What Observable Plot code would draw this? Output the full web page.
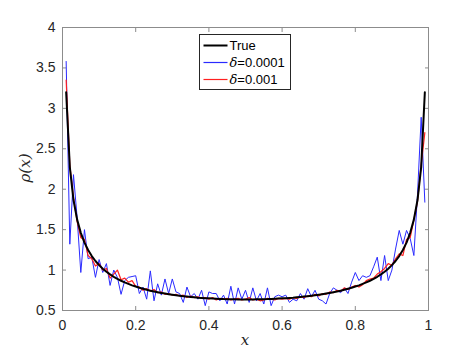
<!DOCTYPE html>
<html>
<head>
<meta charset="utf-8">
<script src="https://cdn.jsdelivr.net/npm/d3@7"></script>
<script src="https://cdn.jsdelivr.net/npm/@observablehq/plot@0.6"></script>
<style>
body{margin:0;background:#fff;}
#chart{position:relative;width:474px;height:355px;}
</style>
</head>
<body>
<div id="chart"></div>
<script>
const xs = [0.01,0.02,0.03,0.04,0.05,0.06,0.07,0.08,0.09,0.10,0.11,0.12,0.13,0.14,0.15,0.16,0.17,0.18,0.19,0.20,
0.21,0.22,0.23,0.24,0.25,0.26,0.27,0.28,0.29,0.30,0.31,0.32,0.33,0.34,0.35,0.36,0.37,0.38,0.39,0.40,
0.41,0.42,0.43,0.44,0.45,0.46,0.47,0.48,0.49,0.50,0.51,0.52,0.53,0.54,0.55,0.56,0.57,0.58,0.59,0.60,
0.61,0.62,0.63,0.64,0.65,0.66,0.67,0.68,0.69,0.70,0.71,0.72,0.73,0.74,0.75,0.76,0.77,0.78,0.79,0.80,
0.81,0.82,0.83,0.84,0.85,0.86,0.87,0.88,0.89,0.90,0.91,0.92,0.93,0.94,0.95,0.96,0.97,0.98,0.99];

const trueVals = [3.199,2.274,1.866,1.624,1.461,1.340,1.248,1.173,1.112,1.061,1.017,0.980,0.947,0.917,0.891,0.868,0.847,0.829,0.811,0.796,
0.781,0.768,0.756,0.745,0.735,0.726,0.717,0.709,0.702,0.695,0.688,0.682,0.677,0.672,0.667,0.663,0.659,0.656,0.653,0.650,
0.647,0.645,0.643,0.641,0.640,0.639,0.638,0.637,0.637,0.637,0.637,0.637,0.638,0.639,0.640,0.641,0.643,0.645,0.647,0.650,
0.653,0.656,0.659,0.663,0.667,0.672,0.677,0.682,0.688,0.695,0.702,0.709,0.717,0.726,0.735,0.745,0.756,0.768,0.781,0.796,
0.811,0.829,0.847,0.868,0.891,0.917,0.947,0.980,1.017,1.061,1.112,1.173,1.248,1.340,1.461,1.624,1.866,2.274,3.199];

const blueVals = [3.58,1.32,2.18,1.65,0.97,1.50,1.14,1.16,0.91,1.13,0.97,1.08,0.81,1.00,0.91,0.70,0.87,0.91,0.92,0.93,
0.71,0.79,0.64,0.99,0.62,0.83,0.69,0.89,0.71,0.89,0.73,0.71,0.60,0.79,0.67,0.71,0.64,0.75,0.56,0.73,
0.71,0.71,0.62,0.69,0.58,0.80,0.58,0.78,0.64,0.75,0.60,0.78,0.62,0.71,0.58,0.78,0.56,0.67,0.69,0.67,
0.69,0.60,0.64,0.62,0.71,0.64,0.77,0.67,0.75,0.64,0.62,0.58,0.71,0.78,0.75,0.72,0.78,0.71,0.85,0.97,
0.87,0.93,0.91,0.93,1.04,1.16,0.87,1.18,0.87,1.00,1.26,1.49,1.32,1.49,1.39,1.18,1.94,2.89,1.84];

const redVals = [3.35,2.30,1.90,1.60,1.40,1.38,1.18,1.14,1.05,1.08,1.00,1.02,0.90,0.95,1.00,0.88,0.90,0.85,0.87,0.80,
0.79,0.75,0.77,0.74,0.76,0.72,0.73,0.70,0.71,0.69,0.70,0.68,0.69,0.66,0.68,0.66,0.67,0.65,0.66,0.64,
0.66,0.63,0.65,0.64,0.65,0.63,0.64,0.65,0.63,0.64,0.66,0.63,0.64,0.62,0.63,0.65,0.64,0.63,0.65,0.64,
0.65,0.64,0.66,0.65,0.67,0.66,0.68,0.67,0.70,0.68,0.71,0.70,0.73,0.72,0.75,0.74,0.78,0.76,0.79,0.81,
0.79,0.82,0.87,0.89,0.90,0.95,0.98,1.02,1.08,1.06,1.14,1.20,1.18,1.38,1.40,1.62,1.85,2.30,2.70];

const xTicks = [0,0.2,0.4,0.6,0.8,1];
const yTicks = [0.5,1,1.5,2,2.5,3,3.5,4];
const legendLabels = ["True","=0.0001","=0.001"];
const seriesColors = ["#000000","#2a2aff","#ff2020"];

const mk = vals => xs.map((x,i)=>({x, y: vals[i]}));
const axisColor = "#8c8c8c";
const font = "'Liberation Sans', Arial, sans-serif";

const plot = Plot.plot({
  width: 474, height: 355,
  marginLeft: 62, marginRight: 46, marginTop: 27, marginBottom: 45,
  style: {fontFamily: font, fontSize: "14px", color: "#262626", background: "#fff"},
  x: {domain: [0,1], label: null},
  y: {domain: [0.5,4], label: null},
  marks: [
    Plot.frame({stroke: axisColor}),
    Plot.axisX(xTicks, {anchor: "bottom", tickSize: -4, text: null, stroke: axisColor}),
    Plot.axisX(xTicks, {anchor: "top", tickSize: -4, text: null, label: null, stroke: axisColor}),
    Plot.axisX(xTicks, {anchor: "bottom", tickSize: 0, tickPadding: 10, label: null, fill: "#262626", tickFormat: d => String(d)}),
    Plot.axisY(yTicks, {anchor: "left", tickSize: -4, text: null, stroke: axisColor}),
    Plot.axisY(yTicks, {anchor: "right", tickSize: -4, text: null, label: null, stroke: axisColor}),
    Plot.axisY(yTicks, {anchor: "left", tickSize: 0, tickPadding: 7, label: null, fill: "#262626", tickFormat: d => String(d)}),
    Plot.line(mk(blueVals), {x: "x", y: "y", stroke: seriesColors[1], strokeWidth: 1}),
    Plot.line(mk(redVals), {x: "x", y: "y", stroke: seriesColors[2], strokeWidth: 1.2}),
    Plot.line(mk(trueVals), {x: "x", y: "y", stroke: seriesColors[0], strokeWidth: 2})
  ]
});
document.getElementById("chart").appendChild(plot);

const svg = d3.select(plot);
// axis labels
svg.append("text").attr("x", 245).attr("y", 345).attr("text-anchor","middle")
  .style("font-family","'DejaVu Serif', 'Liberation Serif', serif").style("font-style","italic")
  .style("font-size","15px").attr("fill","#262626").text("x");
svg.append("text").attr("transform","translate(30,168) rotate(-90)").attr("text-anchor","middle")
  .style("font-family","'DejaVu Serif', 'Liberation Serif', serif").style("font-style","italic")
  .style("font-size","15px").attr("fill","#262626").text("ρ(x)");

// legend
const lg = svg.append("g").attr("transform","translate(199.5,34.5)");
lg.append("rect").attr("width",91).attr("height",55).attr("fill","#fff").attr("stroke","#262626").attr("stroke-width",1);
legendLabels.forEach((lab,i)=>{
  const yy = 11 + i*17;
  lg.append("line").attr("x1",4).attr("x2",28).attr("y1",yy).attr("y2",yy)
    .style("stroke",seriesColors[i]).style("stroke-width", i===0?2:1.2);
  const t = lg.append("text").attr("x",30).attr("y",yy+4.5).attr("text-anchor","start")
    .style("text-anchor","start")
    .style("font-family",font).style("font-size","13px").attr("fill","#000");
  if (i>0) t.append("tspan").style("font-family","'DejaVu Serif', 'Liberation Serif', serif").style("font-style","italic").text("δ");
  t.append("tspan").text(lab);
});
</script>
</body>
</html>
